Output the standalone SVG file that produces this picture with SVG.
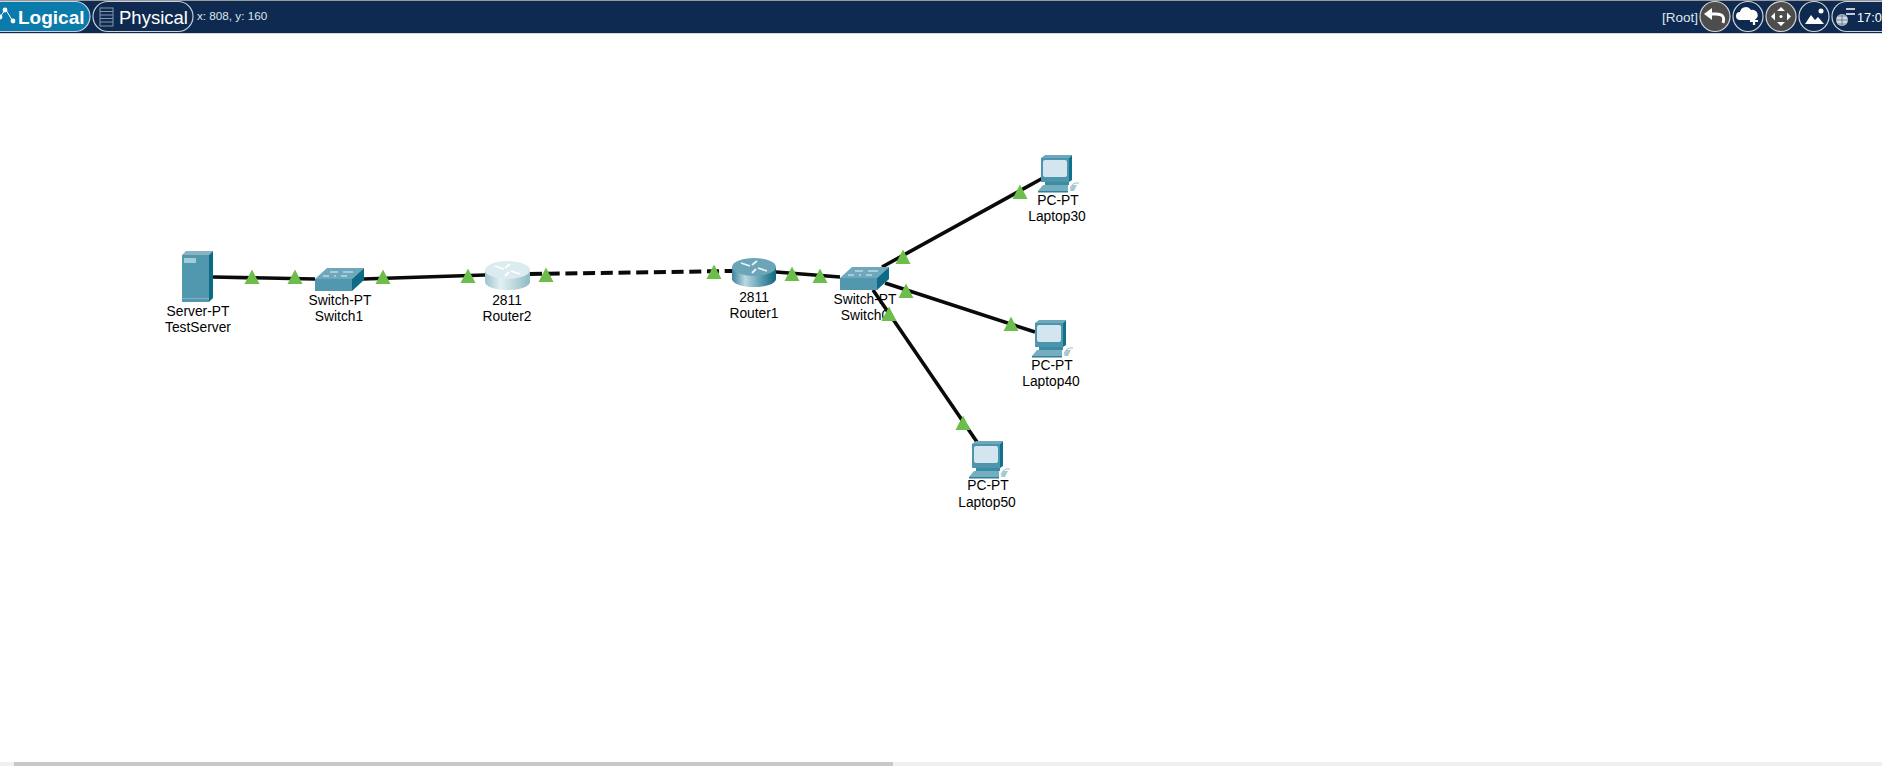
<svg xmlns="http://www.w3.org/2000/svg" width="1882" height="766" viewBox="0 0 1882 766">
<style>
text{font-family:"Liberation Sans",Arial,sans-serif}
.lb{font-size:13.8px;fill:#000;text-anchor:middle}
.ln{stroke:#0a0a0a;stroke-width:3.6;fill:none}
.tri{fill:#6dbd4a}
.hb{fill:none;stroke:#c9d2dc;stroke-width:1.2}
.ib{fill:#4d4d4d;stroke:#d5d5d5;stroke-width:1.2}
.ibn{fill:#0e2a50;stroke:#d5d5d5;stroke-width:1.2}
.ic{fill:#fff}
</style>
<defs>
<linearGradient id="rg1" x1="0" x2="1" y1="0" y2="0"><stop offset="0" stop-color="#3f8298"/><stop offset=".3" stop-color="#bcd9e2"/><stop offset=".65" stop-color="#5d9fb3"/><stop offset="1" stop-color="#12667f"/></linearGradient>
<linearGradient id="rg2" x1="0" x2="1" y1="0" y2="0"><stop offset="0" stop-color="#9cc4cd"/><stop offset=".35" stop-color="#e4f0f2"/><stop offset=".7" stop-color="#b6d4da"/><stop offset="1" stop-color="#8fbac4"/></linearGradient>
<polygon id="t" class="tri" points="0,-7.500 7.500,7 -7.500,7"/>
<g id="sw">
<polygon points="0,11 12,0 49,0 37,11" fill="#6ea8bd"/>
<rect x="0" y="11" width="37" height="12" fill="#5197ae"/>
<polygon points="37,11 49,0 49,12 37,23" fill="#0f6a86"/>
<path d="M15 4h8M28 4h10M8 8h6M26 8h6M19 8h2" stroke="#e4eff3" stroke-width="1.2" fill="none"/>
</g>
<g id="lap">
<polygon points="0,0 4,-3 31,-3 28,0" fill="#6fa8ba"/>
<polygon points="28,0 31,-3 31,22 28,24" fill="#11708c"/>
<rect x="0" y="0" width="28" height="24" fill="#4d95ad"/>
<rect x="2" y="2" width="24" height="17" rx="2" fill="#d3e5ee"/>
<rect x="4" y="24" width="24" height="3" fill="#3d8aa3"/>
<polygon points="2,27 27,27 27,33 -3,33" fill="#75aebf"/>
<rect x="-3" y="33" width="30" height="1.5" fill="#2f7f99"/>
<path d="M29 31q2-7 9-6" stroke="#9cbcc8" fill="none"/>
<polygon points="31,27 36,27 33,33 29,33" fill="#a5c9d3"/>
</g>
</defs>
<rect width="1882" height="766" fill="#fff"/>

<g id="toolbar">
<rect width="1882" height="33" fill="#0e2a50"/>
<rect width="1882" height="1" fill="#999"/>
<rect x="0" y="33" width="1882" height="1" fill="#d8d8d8"/>
<rect x="-20" y="1.500" width="110" height="30" rx="15" fill="#0b7bab" stroke="#c9d2dc" stroke-width="1.200"/>
<path d="M0 17L5 10M6 10L12 20" stroke="#fff" stroke-width="1" fill="none"/><circle cx="0" cy="17" r="2.400" class="ic"/><circle cx="5" cy="10" r="2.400" class="ic"/><circle cx="13" cy="21" r="2.400" class="ic"/>
<text x="18" y="24" font-size="19" font-weight="bold" fill="#fff">Logical</text>
<rect x="93" y="1.500" width="100" height="30" rx="15" class="hb"/>
<rect x="100" y="8" width="13" height="18" fill="none" stroke="#8595a8"/><path d="M100 11.500h13M100 15h13M100 18.500h13M100 22h13" stroke="#8595a8"/>
<text x="119" y="24" font-size="18.500" fill="#fff">Physical</text>
<text x="197" y="20" font-size="11.700" fill="#dfe6ee">x: 808, y: 160</text>
<text x="1662" y="21.500" font-size="13.500" fill="#dfe6ee">[Root]</text>
<circle cx="1715" cy="16.500" r="15" class="ib"/>
<path d="M1723 23q3-9-7-9h-7" stroke="#fff" stroke-width="2.800" fill="none"/><path d="M1712 8l-8 6 8 6z" class="ic"/>
<circle cx="1748" cy="16.500" r="15" class="ibn"/>
<path d="M1740 20a4 4 0 0 1 0-8a6 6 0 0 1 11-2a5 5 0 0 1 3 10z" class="ic"/><path d="M1750 21h8M1754 17v8" stroke="#fff" stroke-width="2.200"/>
<circle cx="1781" cy="16.500" r="15" class="ib"/>
<path d="M1781 7l4 4h-8zM1781 26l4-4h-8zM1771 16.500l4-4v8zM1791 16.500l-4-4v8z" class="ic"/><circle cx="1781" cy="16.500" r="1.500" class="ic"/>
<circle cx="1814" cy="16.500" r="15" class="ibn"/>
<path d="M1805 24l6-9 4 5 3-3 6 7z" class="ic"/><circle cx="1821" cy="11" r="2.500" class="ic"/>
<rect x="1832" y="1.500" width="70" height="30" rx="15" class="hb"/>
<circle cx="1842" cy="20" r="6" fill="#cfd6de"/><path d="M1836 20h12M1842 14v12M1838 16h8M1838 24h8" stroke="#5b6b80" stroke-width=".8"/>
<path d="M1846 9h9M1846 14h9" stroke="#fff" stroke-width="1.300"/>
<text x="1857" y="22" font-size="12.800" fill="#fff">17:0</text>
</g>

<g id="connectors">
<path class="ln" d="M213 277L315 279"/>
<path class="ln" d="M363 279L485 275"/>
<path class="ln" d="M530 274L732 271" stroke-dasharray="12 5.700" style="stroke-width:4"/>
<path class="ln" d="M776 272L840 277"/>
<path class="ln" d="M882 267L1043 178"/>
<path class="ln" d="M885 283L1035 332"/>
<path class="ln" d="M873 290L977 442"/>
</g>

<g id="TestServer">
<rect x="182" y="255" width="27" height="47" fill="#5197ae"/>
<polygon points="182,255 186,251 213,251 209,255" fill="#88b3c2"/>
<polygon points="209,255 213,251 213,298 209,302" fill="#0f6a86"/>
<rect x="184" y="258" width="12" height="5" fill="#a3cbd8"/>
<rect x="182" y="298" width="27" height="1" fill="#7fb1c2"/>
<text class="lb" x="198" y="316">Server-PT</text><text class="lb" x="198" y="332">TestServer</text>
</g>
<g id="Switch1"><use href="#sw" x="315" y="268"/><text class="lb" x="340" y="305">Switch-PT</text><text class="lb" x="339" y="321">Switch1</text></g>
<g id="Router2">
<path d="M485 270v12a22.500 8 0 0 0 45 0v-12z" fill="url(#rg2)"/>
<ellipse cx="507.500" cy="270" rx="22.500" ry="9" fill="#dcebef"/>
<path d="M495 266l9 3M520 274l-9-3M510 264l-5 4M505 276l4-4" stroke="#fff" stroke-width="1.800" fill="none"/>
<text class="lb" x="507" y="305">2811</text><text class="lb" x="507" y="321">Router2</text>
</g>
<g id="Router1">
<path d="M732 267v12a22 8 0 0 0 44 0v-12z" fill="url(#rg1)"/>
<ellipse cx="754" cy="267" rx="22" ry="9" fill="#6ca5b8"/>
<path d="M741 263l9 3M767 271l-9-3M757 261l-5 4M752 273l4-4" stroke="#e9f3f6" stroke-width="1.800" fill="none"/>
<text class="lb" x="754" y="302">2811</text><text class="lb" x="754" y="318">Router1</text>
</g>
<g id="Switch0"><use href="#sw" x="840" y="267"/><text class="lb" x="865" y="304">Switch-PT</text><text class="lb" x="865" y="320">Switch0</text></g>
<g id="Laptop30"><use href="#lap" x="1041" y="158"/><text class="lb" x="1058" y="205">PC-PT</text><text class="lb" x="1057" y="221">Laptop30</text></g>
<g id="Laptop40"><use href="#lap" x="1035" y="323"/><text class="lb" x="1052" y="370">PC-PT</text><text class="lb" x="1051" y="386">Laptop40</text></g>
<g id="Laptop50"><use href="#lap" x="972" y="444"/><text class="lb" x="988" y="490">PC-PT</text><text class="lb" x="987" y="507">Laptop50</text></g>

<g id="link-lights">
<use href="#t" x="252" y="277"/><use href="#t" x="295" y="277"/><use href="#t" x="383" y="277"/><use href="#t" x="468" y="276"/><use href="#t" x="546" y="275"/><use href="#t" x="714" y="272"/><use href="#t" x="792" y="274"/><use href="#t" x="820" y="276"/><use href="#t" x="903" y="257"/><use href="#t" x="906" y="291"/><use href="#t" x="889" y="314"/><use href="#t" x="1020" y="192"/><use href="#t" x="1011" y="324"/><use href="#t" x="963" y="423"/>
</g>

<g id="scrollbar">
<rect x="0" y="762" width="1882" height="4" fill="#f0f0f0"/>
<rect x="14" y="762" width="879" height="4" fill="#c8c8c8"/>
</g>
</svg>
